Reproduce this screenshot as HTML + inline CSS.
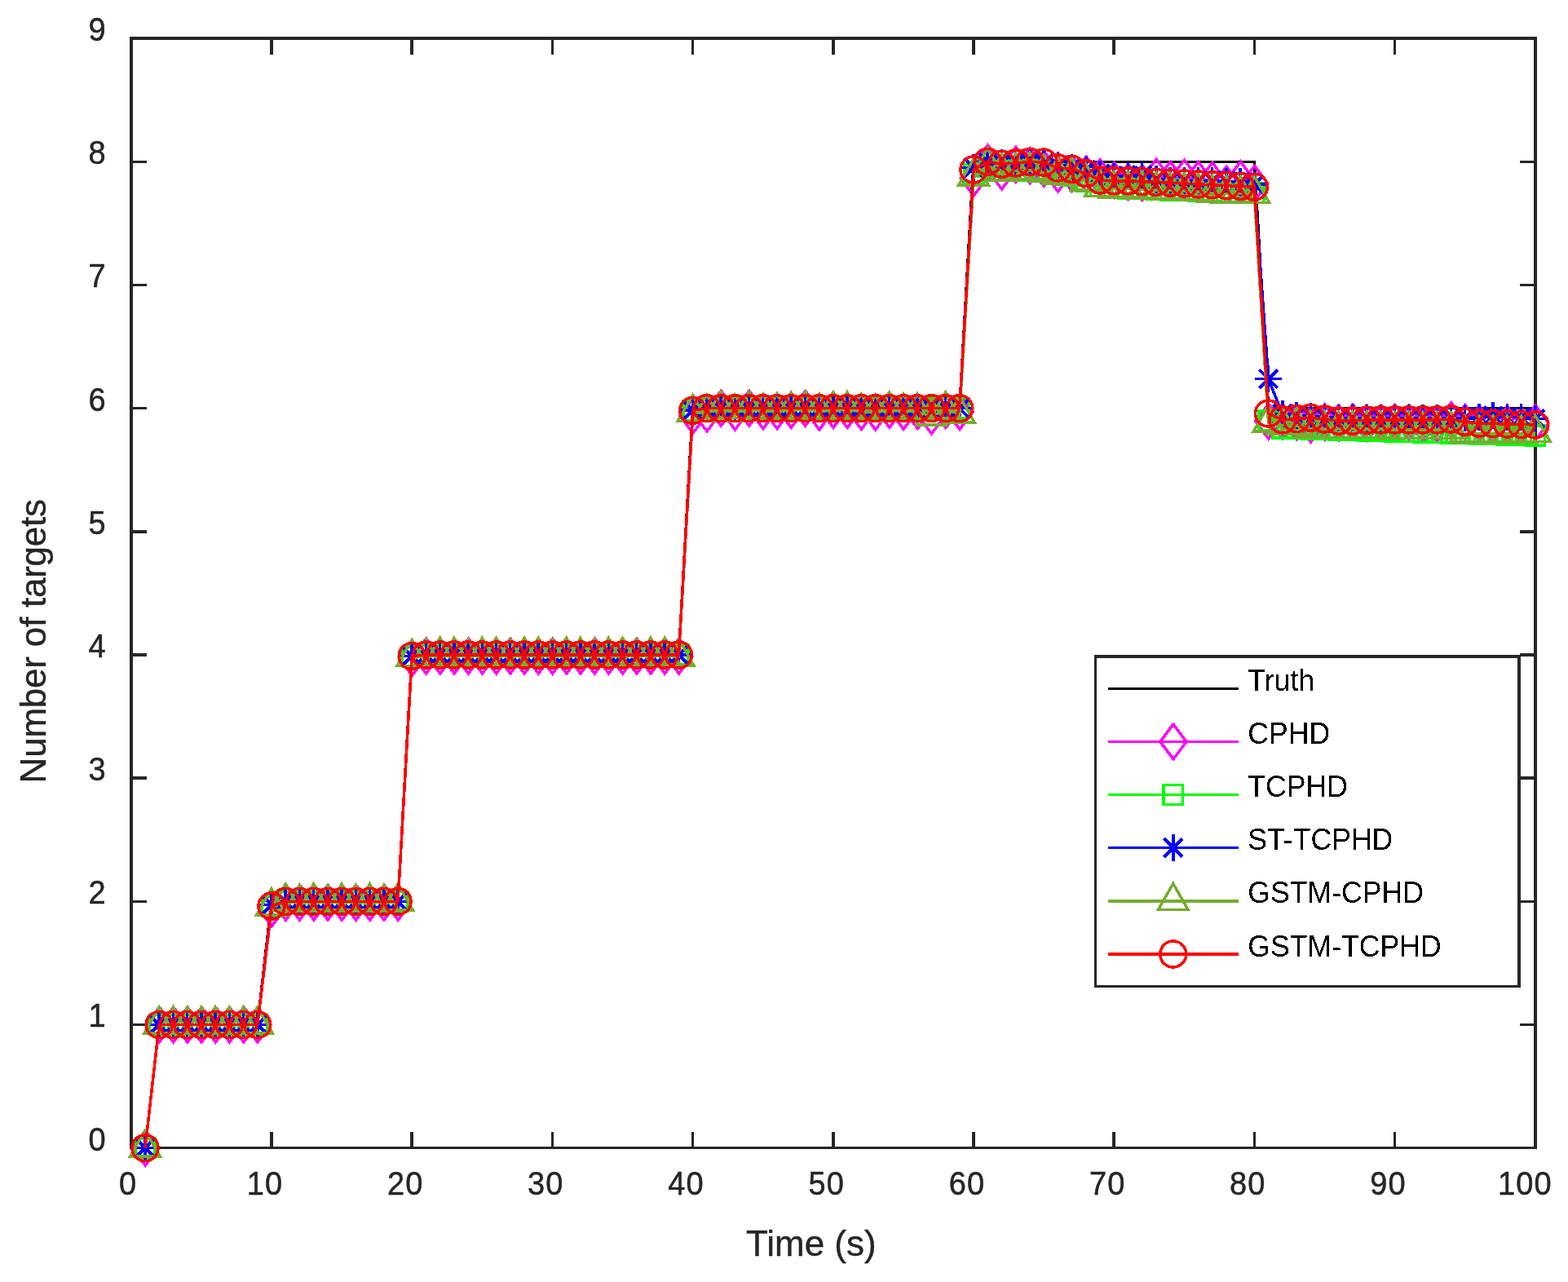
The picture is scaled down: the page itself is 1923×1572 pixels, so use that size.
<!DOCTYPE html>
<html lang="en"><head><meta charset="utf-8">
<title>Number of targets vs Time</title>
<style>
html,body{margin:0;padding:0;background:#fff;}
body{width:1923px;height:1572px;overflow:hidden;}
svg{display:block;}
text{font-family:"Liberation Sans", sans-serif;}
.tk{font-size:38px;fill:#262626;stroke:#262626;stroke-width:0.5px;}
.lb{font-size:44px;fill:#262626;stroke:#262626;stroke-width:0.4px;}
.lg{font-size:35.6px;fill:#000;}
</style></head><body>
<svg width="1923" height="1572" viewBox="0 0 1923 1572" role="img" aria-label="Number of targets versus time">
<defs>
<filter id="hard" x="-5%" y="-20%" width="110%" height="140%" color-interpolation-filters="sRGB"><feComponentTransfer><feFuncA type="discrete" tableValues="0 1"/></feComponentTransfer></filter>
<marker id="m_dia" markerUnits="userSpaceOnUse" markerWidth="60" markerHeight="60" viewBox="-30 -30 60 60" refX="0" refY="0" orient="0" overflow="visible"><g fill="none" stroke="#ff00ff" stroke-width="3.5" stroke-linejoin="miter" stroke-miterlimit="10" shape-rendering="crispEdges"><path d="M0.2,-21.4 L16.2,0 L0.2,21.4 L-15.8,0 Z"/></g></marker>
<marker id="m_sq" markerUnits="userSpaceOnUse" markerWidth="60" markerHeight="60" viewBox="-30 -30 60 60" refX="0" refY="0" orient="0" overflow="visible"><g fill="none" stroke="#00ff00" stroke-width="3.5" stroke-linejoin="miter" stroke-miterlimit="10" shape-rendering="crispEdges"><rect x="-11.75" y="-12" width="23.5" height="24"/></g></marker>
<marker id="m_ast" markerUnits="userSpaceOnUse" markerWidth="60" markerHeight="60" viewBox="-30 -30 60 60" refX="0" refY="0" orient="0" overflow="visible"><g fill="none" stroke="#0000ff" stroke-width="3.5" stroke-linejoin="miter" stroke-miterlimit="10" shape-rendering="crispEdges"><path d="M0,-16.6 V16.6 M-16.6,0 H16.6"/><path stroke-width="4" d="M-11.3,-11.3 L11.3,11.3 M-11.3,11.3 L11.3,-11.3"/></g></marker>
<marker id="m_tri" markerUnits="userSpaceOnUse" markerWidth="60" markerHeight="60" viewBox="-30 -30 60 60" refX="0" refY="0" orient="0" overflow="visible"><g fill="none" stroke="#77ac30" stroke-width="3.5" stroke-linejoin="miter" stroke-miterlimit="10" shape-rendering="crispEdges"><path d="M0,-21.5 L18.36,10.5 L-18.36,10.5 Z"/></g></marker>
<marker id="m_cir" markerUnits="userSpaceOnUse" markerWidth="60" markerHeight="60" viewBox="-30 -30 60 60" refX="0" refY="0" orient="0" overflow="visible"><g fill="none" stroke="#ff0000" stroke-width="3.5" stroke-linejoin="miter" stroke-miterlimit="10" shape-rendering="crispEdges"><circle cx="0" cy="0" r="16"/></g></marker>
</defs>
<rect x="0" y="0" width="1923" height="1572" fill="#ffffff"/>
<g fill="none" stroke="#262626" stroke-width="3.5" shape-rendering="crispEdges" stroke-linecap="butt">
<path d="M160.80,47.20 H1882.80 V1407.70 H160.80 Z" stroke-linejoin="miter"/>
<path d="M333.00,1407.70 v-19.3 M333.00,47.20 v19.3 M505.20,1407.70 v-19.3 M505.20,47.20 v19.3 M677.40,1407.70 v-19.3 M677.40,47.20 v19.3 M849.60,1407.70 v-19.3 M849.60,47.20 v19.3 M1021.80,1407.70 v-19.3 M1021.80,47.20 v19.3 M1194.00,1407.70 v-19.3 M1194.00,47.20 v19.3 M1366.20,1407.70 v-19.3 M1366.20,47.20 v19.3 M1538.40,1407.70 v-19.3 M1538.40,47.20 v19.3 M1710.60,1407.70 v-19.3 M1710.60,47.20 v19.3 M160.80,1256.53 h19.3 M1882.80,1256.53 h-19.3 M160.80,1105.37 h19.3 M1882.80,1105.37 h-19.3 M160.80,954.20 h19.3 M1882.80,954.20 h-19.3 M160.80,803.03 h19.3 M1882.80,803.03 h-19.3 M160.80,651.87 h19.3 M1882.80,651.87 h-19.3 M160.80,500.70 h19.3 M1882.80,500.70 h-19.3 M160.80,349.53 h19.3 M1882.80,349.53 h-19.3 M160.80,198.37 h19.3 M1882.80,198.37 h-19.3"/>
</g>
<g class="tk">
<text transform="translate(0,1464.8) scale(1,1.078)" x="145.90" y="0">0</text>
<text transform="translate(0,1464.8) scale(1,1.078)" x="302.70 324.94" y="0">10</text>
<text transform="translate(0,1464.8) scale(1,1.078)" x="474.90 497.14" y="0">20</text>
<text transform="translate(0,1464.8) scale(1,1.078)" x="647.10 669.34" y="0">30</text>
<text transform="translate(0,1464.8) scale(1,1.078)" x="819.30 841.54" y="0">40</text>
<text transform="translate(0,1464.8) scale(1,1.078)" x="991.50 1013.74" y="0">50</text>
<text transform="translate(0,1464.8) scale(1,1.078)" x="1163.70 1185.94" y="0">60</text>
<text transform="translate(0,1464.8) scale(1,1.078)" x="1335.90 1358.14" y="0">70</text>
<text transform="translate(0,1464.8) scale(1,1.078)" x="1508.10 1530.34" y="0">80</text>
<text transform="translate(0,1464.8) scale(1,1.078)" x="1680.30 1702.54" y="0">90</text>
<text transform="translate(0,1464.8) scale(1,1.078)" x="1837.10 1859.34 1881.58" y="0">100</text>
<text transform="translate(108.5,1410.6) scale(1,1.078)">0</text>
<text transform="translate(108.5,1259.4) scale(1,1.078)">1</text>
<text transform="translate(108.5,1108.3) scale(1,1.078)">2</text>
<text transform="translate(108.5,957.1) scale(1,1.078)">3</text>
<text transform="translate(108.5,805.9) scale(1,1.078)">4</text>
<text transform="translate(108.5,654.8) scale(1,1.078)">5</text>
<text transform="translate(108.5,503.6) scale(1,1.078)">6</text>
<text transform="translate(108.5,352.4) scale(1,1.078)">7</text>
<text transform="translate(108.5,201.3) scale(1,1.078)">8</text>
<text transform="translate(108.5,50.1) scale(1,1.078)">9</text>
</g>
<text class="lb" x="915" y="1540">Time (s)</text>
<text class="lb" transform="translate(56.4,960.4) rotate(-90)" letter-spacing="-0.23">Number of targets</text>
<g fill="none" shape-rendering="crispEdges" stroke-linejoin="miter" stroke-linecap="butt">
<polyline points="178.0,1407.7 195.2,1256.5 212.5,1256.5 229.7,1256.5 246.9,1256.5 264.1,1256.5 281.3,1256.5 298.6,1256.5 315.8,1256.5 333.0,1105.4 350.2,1105.4 367.4,1105.4 384.7,1105.4 401.9,1105.4 419.1,1105.4 436.3,1105.4 453.5,1105.4 470.8,1105.4 488.0,1105.4 505.2,803.0 522.4,803.0 539.6,803.0 556.9,803.0 574.1,803.0 591.3,803.0 608.5,803.0 625.7,803.0 643.0,803.0 660.2,803.0 677.4,803.0 694.6,803.0 711.8,803.0 729.1,803.0 746.3,803.0 763.5,803.0 780.7,803.0 797.9,803.0 815.2,803.0 832.4,803.0 849.6,500.7 866.8,500.7 884.0,500.7 901.3,500.7 918.5,500.7 935.7,500.7 952.9,500.7 970.1,500.7 987.4,500.7 1004.6,500.7 1021.8,500.7 1039.0,500.7 1056.2,500.7 1073.5,500.7 1090.7,500.7 1107.9,500.7 1125.1,500.7 1142.3,500.7 1159.6,500.7 1176.8,500.7 1194.0,198.4 1211.2,198.4 1228.4,198.4 1245.7,198.4 1262.9,198.4 1280.1,198.4 1297.3,198.4 1314.5,198.4 1331.8,198.4 1349.0,198.4 1366.2,198.4 1383.4,198.4 1400.6,198.4 1417.9,198.4 1435.1,198.4 1452.3,198.4 1469.5,198.4 1486.7,198.4 1504.0,198.4 1521.2,198.4 1538.4,198.4 1555.6,500.7 1572.8,500.7 1590.1,500.7 1607.3,500.7 1624.5,500.7 1641.7,500.7 1658.9,500.7 1676.2,500.7 1693.4,500.7 1710.6,500.7 1727.8,500.7 1745.0,500.7 1762.3,500.7 1779.5,500.7 1796.7,500.7 1813.9,500.7 1831.1,500.7 1848.4,500.7 1865.6,500.7 1882.8,500.7" stroke="#000000" stroke-width="3.5"/>
<polyline points="178.0,1407.7 195.2,1256.5 212.5,1256.5 229.7,1256.5 246.9,1256.5 264.1,1256.5 281.3,1256.5 298.6,1256.5 315.8,1256.5 333.0,1114.4 350.2,1106.7 367.4,1106.7 384.7,1106.7 401.9,1106.7 419.1,1106.7 436.3,1106.7 453.5,1106.7 470.8,1106.7 488.0,1106.7 505.2,806.8 522.4,804.5 539.6,804.5 556.9,804.5 574.1,804.5 591.3,804.5 608.5,804.5 625.7,804.5 643.0,804.5 660.2,804.5 677.4,804.5 694.6,804.5 711.8,804.5 729.1,804.5 746.3,804.5 763.5,804.5 780.7,804.5 797.9,804.5 815.2,804.5 832.4,804.5 849.6,509.8 866.8,507.4 884.0,500.7 901.3,505.5 918.5,500.7 935.7,504.2 952.9,504.2 970.1,503.0 987.4,500.7 1004.6,505.5 1021.8,503.0 1039.0,503.0 1056.2,504.9 1073.5,505.5 1090.7,503.0 1107.9,504.9 1125.1,504.2 1142.3,510.5 1159.6,503.0 1176.8,504.9 1194.0,218.6 1211.2,199.4 1228.4,210.5 1245.7,201.8 1262.9,203.2 1280.1,206.8 1297.3,213.5 1314.5,213.0 1331.8,213.5 1349.0,217.3 1366.2,221.0 1383.4,222.9 1400.6,224.1 1417.9,216.7 1435.1,219.8 1452.3,217.6 1469.5,219.8 1486.7,220.7 1504.0,225.7 1521.2,219.5 1538.4,224.8 1555.6,516.7 1572.8,516.6 1590.1,517.3 1607.3,520.8 1624.5,517.5 1641.7,518.5 1658.9,517.5 1676.2,519.1 1693.4,518.8 1710.6,518.1 1727.8,518.4 1745.0,520.0 1762.3,520.0 1779.5,515.4 1796.7,518.1 1813.9,519.1 1831.1,521.1 1848.4,519.9 1865.6,521.9 1882.8,518.4" stroke="#ff00ff" stroke-width="3.5" marker-start="url(#m_dia)" marker-mid="url(#m_dia)" marker-end="url(#m_dia)"/>
<polyline points="178.0,1407.7 195.2,1256.5 212.5,1256.5 229.7,1256.5 246.9,1256.5 264.1,1256.5 281.3,1256.5 298.6,1256.5 315.8,1256.5 333.0,1111.4 350.2,1105.4 367.4,1105.4 384.7,1105.4 401.9,1105.4 419.1,1105.4 436.3,1105.4 453.5,1105.4 470.8,1105.4 488.0,1105.4 505.2,805.3 522.4,803.0 539.6,803.0 556.9,803.0 574.1,803.0 591.3,803.0 608.5,803.0 625.7,803.0 643.0,803.0 660.2,803.0 677.4,803.0 694.6,803.0 711.8,803.0 729.1,803.0 746.3,803.0 763.5,803.0 780.7,803.0 797.9,803.0 815.2,803.0 832.4,803.0 849.6,503.7 866.8,500.7 884.0,500.7 901.3,500.7 918.5,500.7 935.7,500.7 952.9,500.7 970.1,500.7 987.4,500.7 1004.6,500.7 1021.8,500.7 1039.0,500.7 1056.2,500.7 1073.5,500.7 1090.7,500.7 1107.9,500.7 1125.1,500.7 1142.3,500.7 1159.6,500.7 1176.8,500.7 1194.0,213.5 1211.2,204.4 1228.4,208.9 1245.7,208.9 1262.9,208.9 1280.1,210.5 1297.3,213.5 1314.5,215.0 1331.8,222.6 1349.0,228.6 1366.2,230.1 1383.4,230.9 1400.6,231.6 1417.9,232.2 1435.1,232.8 1452.3,233.4 1469.5,234.0 1486.7,234.6 1504.0,235.3 1521.2,235.9 1538.4,236.5 1555.6,515.8 1572.8,524.9 1590.1,525.4 1607.3,525.9 1624.5,526.4 1641.7,526.9 1658.9,527.4 1676.2,527.9 1693.4,528.4 1710.6,528.9 1727.8,529.4 1745.0,529.9 1762.3,530.4 1779.5,530.9 1796.7,531.4 1813.9,531.9 1831.1,532.4 1848.4,532.9 1865.6,533.4 1882.8,533.9" stroke="#00ff00" stroke-width="3.5" marker-start="url(#m_sq)" marker-mid="url(#m_sq)" marker-end="url(#m_sq)"/>
<polyline points="178.0,1407.7 195.2,1256.5 212.5,1256.5 229.7,1256.5 246.9,1256.5 264.1,1256.5 281.3,1256.5 298.6,1256.5 315.8,1256.5 333.0,1109.6 350.2,1105.4 367.4,1105.4 384.7,1105.4 401.9,1105.4 419.1,1105.4 436.3,1105.4 453.5,1105.4 470.8,1105.4 488.0,1105.4 505.2,804.5 522.4,803.0 539.6,803.0 556.9,803.0 574.1,803.0 591.3,803.0 608.5,803.0 625.7,803.0 643.0,803.0 660.2,803.0 677.4,803.0 694.6,803.0 711.8,803.0 729.1,803.0 746.3,803.0 763.5,803.0 780.7,803.0 797.9,803.0 815.2,803.0 832.4,803.0 849.6,503.0 866.8,500.7 884.0,500.7 901.3,500.7 918.5,500.7 935.7,500.7 952.9,500.7 970.1,500.7 987.4,500.7 1004.6,500.7 1021.8,500.7 1039.0,500.7 1056.2,500.7 1073.5,500.7 1090.7,500.7 1107.9,500.7 1125.1,500.7 1142.3,500.7 1159.6,500.7 1176.8,500.7 1194.0,205.6 1211.2,198.4 1228.4,199.9 1245.7,199.9 1262.9,198.4 1280.1,199.9 1297.3,202.9 1314.5,205.2 1331.8,208.9 1349.0,213.5 1366.2,216.5 1383.4,215.8 1400.6,215.0 1417.9,220.0 1435.1,221.8 1452.3,221.8 1469.5,221.8 1486.7,221.8 1504.0,222.6 1521.2,223.0 1538.4,226.2 1555.6,464.7 1572.8,507.4 1590.1,509.8 1607.3,510.4 1624.5,511.3 1641.7,512.8 1658.9,512.8 1676.2,512.8 1693.4,512.8 1710.6,512.8 1727.8,512.8 1745.0,512.8 1762.3,512.8 1779.5,512.8 1796.7,512.8 1813.9,511.7 1831.1,509.8 1848.4,511.7 1865.6,511.7 1882.8,513.5" stroke="#0000ff" stroke-width="3.5" marker-start="url(#m_ast)" marker-mid="url(#m_ast)" marker-end="url(#m_ast)"/>
<polyline points="178.0,1407.7 195.2,1256.5 212.5,1256.5 229.7,1256.5 246.9,1256.5 264.1,1256.5 281.3,1256.5 298.6,1256.5 315.8,1256.5 333.0,1111.4 350.2,1105.4 367.4,1106.9 384.7,1105.4 401.9,1106.9 419.1,1105.4 436.3,1106.9 453.5,1105.4 470.8,1106.9 488.0,1105.4 505.2,806.1 522.4,805.3 539.6,803.8 556.9,803.8 574.1,805.3 591.3,803.8 608.5,803.8 625.7,805.3 643.0,803.8 660.2,803.8 677.4,805.3 694.6,803.8 711.8,803.8 729.1,805.3 746.3,803.8 763.5,803.8 780.7,805.3 797.9,803.8 815.2,803.8 832.4,805.3 849.6,506.0 866.8,506.0 884.0,501.8 901.3,506.0 918.5,501.8 935.7,504.6 952.9,504.6 970.1,502.8 987.4,501.8 1004.6,504.8 1021.8,502.5 1039.0,502.5 1056.2,504.5 1073.5,506.0 1090.7,502.5 1107.9,504.5 1125.1,504.5 1142.3,510.4 1159.6,502.5 1176.8,507.4 1194.0,216.5 1211.2,203.2 1228.4,210.5 1245.7,209.7 1262.9,208.9 1280.1,211.7 1297.3,215.0 1314.5,215.8 1331.8,222.6 1349.0,230.1 1366.2,231.6 1383.4,231.6 1400.6,232.4 1417.9,233.0 1435.1,233.6 1452.3,234.2 1469.5,234.8 1486.7,236.9 1504.0,237.5 1521.2,237.7 1538.4,238.0 1555.6,518.7 1572.8,521.4 1590.1,521.9 1607.3,525.6 1624.5,526.1 1641.7,526.1 1658.9,526.1 1676.2,526.1 1693.4,526.1 1710.6,527.0 1727.8,527.0 1745.0,527.0 1762.3,527.0 1779.5,527.0 1796.7,531.7 1813.9,531.7 1831.1,531.7 1848.4,531.7 1865.6,531.7 1882.8,530.9" stroke="#77ac30" stroke-width="3.5" marker-start="url(#m_tri)" marker-mid="url(#m_tri)" marker-end="url(#m_tri)"/>
<polyline points="178.0,1407.7 195.2,1256.5 212.5,1256.5 229.7,1256.5 246.9,1256.5 264.1,1256.5 281.3,1256.5 298.6,1256.5 315.8,1256.5 333.0,1111.0 350.2,1105.4 367.4,1105.4 384.7,1105.4 401.9,1105.4 419.1,1105.4 436.3,1105.4 453.5,1105.4 470.8,1105.4 488.0,1105.4 505.2,804.5 522.4,803.0 539.6,803.0 556.9,803.0 574.1,803.0 591.3,803.0 608.5,803.0 625.7,803.0 643.0,803.0 660.2,803.0 677.4,803.0 694.6,803.0 711.8,803.0 729.1,803.0 746.3,803.0 763.5,803.0 780.7,803.0 797.9,803.0 815.2,803.0 832.4,803.0 849.6,503.3 866.8,500.7 884.0,500.7 901.3,500.7 918.5,500.7 935.7,500.7 952.9,500.7 970.1,500.7 987.4,500.7 1004.6,500.7 1021.8,500.7 1039.0,500.7 1056.2,500.7 1073.5,500.7 1090.7,500.7 1107.9,500.7 1125.1,500.7 1142.3,500.7 1159.6,500.7 1176.8,500.7 1194.0,208.0 1211.2,198.4 1228.4,201.4 1245.7,199.9 1262.9,198.4 1280.1,199.1 1297.3,205.9 1314.5,207.4 1331.8,212.7 1349.0,221.0 1366.2,221.8 1383.4,221.8 1400.6,222.6 1417.9,223.4 1435.1,224.2 1452.3,225.0 1469.5,225.9 1486.7,226.7 1504.0,227.5 1521.2,228.4 1538.4,229.2 1555.6,507.0 1572.8,514.9 1590.1,513.5 1607.3,512.3 1624.5,514.0 1641.7,516.1 1658.9,516.1 1676.2,515.1 1693.4,514.9 1710.6,514.9 1727.8,514.9 1745.0,514.9 1762.3,514.9 1779.5,514.0 1796.7,517.3 1813.9,519.1 1831.1,519.6 1848.4,520.0 1865.6,520.5 1882.8,521.0" stroke="#ff0000" stroke-width="3.5" marker-start="url(#m_cir)" marker-mid="url(#m_cir)" marker-end="url(#m_cir)"/>
</g>
<g shape-rendering="crispEdges">
<rect x="1343.7" y="805" width="519.3" height="404.7" fill="#ffffff" stroke="#262626" stroke-width="3.5"/>
<polyline points="1359,844.5 1519,844.5" fill="none" stroke="#000000" stroke-width="3.5"/>
<polyline points="1359,909.5 1438.75,909.5 1519,909.5" fill="none" stroke="#ff00ff" stroke-width="3.5" marker-mid="url(#m_dia)"/>
<polyline points="1359,974.5 1438.75,974.5 1519,974.5" fill="none" stroke="#00ff00" stroke-width="3.5" marker-mid="url(#m_sq)"/>
<polyline points="1359,1039.5 1438.75,1039.5 1519,1039.5" fill="none" stroke="#0000ff" stroke-width="3.5" marker-mid="url(#m_ast)"/>
<polyline points="1359,1105.0 1438.75,1105.0 1519,1105.0" fill="none" stroke="#77ac30" stroke-width="3.5" marker-mid="url(#m_tri)"/>
<polyline points="1359,1170.0 1438.75,1170.0 1519,1170.0" fill="none" stroke="#ff0000" stroke-width="3.5" marker-mid="url(#m_cir)"/>
</g>
<g class="lg" filter="url(#hard)">
<text transform="translate(1530.3,847.0) scale(1,1.05)">Truth</text>
<text transform="translate(1530.3,912.0) scale(1,1.05)">CPHD</text>
<text transform="translate(1530.3,977.0) scale(1,1.05)">TCPHD</text>
<text transform="translate(1530.3,1042.0) scale(1,1.05)">ST-TCPHD</text>
<text transform="translate(1530.3,1106.5) scale(1,1.05)">GSTM-CPHD</text>
<text transform="translate(1530.3,1172.5) scale(1,1.05)">GSTM-TCPHD</text>
</g>
</svg>
</body></html>
